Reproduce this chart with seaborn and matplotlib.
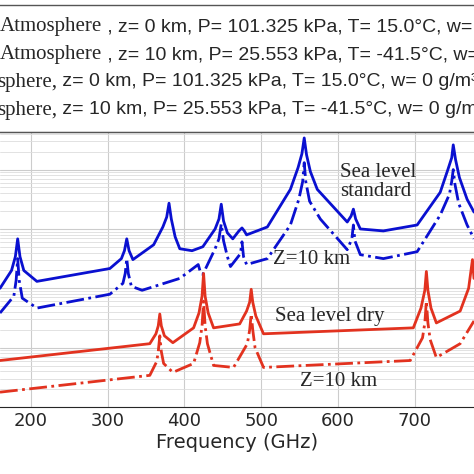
import matplotlib
matplotlib.use("Agg")
import matplotlib.pyplot as plt
import seaborn as sns

# frequency (GHz) and height in pixel-like log units
f_std = [160, 175, 180, 183, 186, 191, 208, 303, 318, 322, 325, 328, 333, 360, 372, 377, 380, 383, 388, 394, 410, 424, 440, 445, 448, 451, 456, 463, 471, 475, 478, 481, 508, 538, 548, 553, 556, 559, 564, 573, 612, 617, 620, 623, 629, 659, 703, 733, 743, 748, 750, 753, 758, 768, 777]
v_std = [120, 138, 152, 170, 152, 138, 127, 140, 150, 158, 170, 158, 149, 164, 182, 192, 206, 190, 172, 160, 158, 162, 180, 190, 205, 188, 176, 170, 178, 181, 178, 174, 182, 220, 242, 256, 272, 255, 238, 220, 187, 193, 200, 190, 180, 178, 184, 217, 240, 252, 265, 250, 232, 210, 197]
f_std10 = [160, 178, 181, 183, 185, 189, 208, 303, 320, 323, 325, 327, 331, 345, 394, 418, 421, 424, 440, 445, 448, 451, 456, 460, 473, 475, 477, 481, 508, 538, 549, 554, 556, 558, 563, 577, 612, 618, 620, 622, 629, 659, 703, 733, 745, 748, 750, 752, 757, 768, 777]
v_std10 = [95, 112, 128, 150, 128, 110, 100, 114, 125, 135, 150, 135, 122, 118, 130, 144, 136, 134, 160, 170, 185, 168, 152, 142, 155, 167, 152, 144, 150, 184, 210, 228, 247, 228, 208, 190, 159, 170, 184, 168, 154, 150, 157, 194, 215, 228, 240, 226, 206, 184, 170]
f_dry = [160, 355, 363, 366, 368, 370, 374, 385, 412, 419, 423, 425, 427, 431, 438, 472, 481, 485, 487, 489, 493, 503, 698, 708, 713, 715, 717, 721, 728, 759, 770, 775, 777]
v_dry = [47, 64, 74, 82, 94, 82, 72, 65, 80, 95, 112, 135, 112, 95, 80, 84, 97, 106, 119, 106, 92, 74, 80, 100, 118, 137, 118, 100, 85, 97, 120, 149, 130]
f_dry10 = [160, 355, 364, 366, 368, 370, 373, 385, 412, 420, 423, 425, 427, 430, 438, 464, 482, 485, 487, 489, 492, 503, 694, 710, 713, 715, 717, 720, 728, 759, 777]
v_dry10 = [15, 32, 46, 56, 72, 56, 44, 35, 44, 65, 82, 107, 82, 64, 42, 40, 64, 78, 94, 78, 60, 40, 47, 70, 85, 107, 85, 68, 50, 64, 87]

legend_serif = ["Atmosphere", "Atmosphere", "sphere,", "sphere,"]
legend_sans = [" , z= 0 km, P= 101.325 kPa, T= 15.0\u00b0C, w= 7.5 g/m\u00b3",
               " , z= 10 km, P= 25.553 kPa, T= -41.5\u00b0C, w= 0.05 g/m\u00b3",
               " z= 0 km, P= 101.325 kPa, T= 15.0\u00b0C, w= 0 g/m\u00b3",
               " z= 10 km, P= 25.553 kPa, T= -41.5\u00b0C, w= 0 g/m\u00b3"]

sns.set_style("white")
fig = plt.figure(figsize=(4.74, 4.74), dpi=100)
ax = fig.add_axes([0, 1 - 407 / 474, 1, 275 / 474])

def tr(v):
    return [10 ** (x / 60) for x in v]

blue = "#0a10d0"
red = "#e2321f"
sns.lineplot(x=f_std, y=tr(v_std), ax=ax, color=blue, lw=2)
sns.lineplot(x=f_std10, y=tr(v_std10), ax=ax, color=blue, lw=2, linestyle="-.")
sns.lineplot(x=f_dry, y=tr(v_dry), ax=ax, color=red, lw=2)
sns.lineplot(x=f_dry10, y=tr(v_dry10), ax=ax, color=red, lw=2, linestyle="-.")

ax.set_yscale("log")
ax.set_xlim(160, 777)
ax.set_ylim(1, 10 ** (278 / 60))
ax.set_xticks([200, 300, 400, 500, 600, 700])
ax.tick_params(axis="x", direction="in", labelsize=13, length=5)
ax.set_yticklabels([], minor=True)
ax.set_yticklabels([])
ax.tick_params(axis="y", which="both", length=0)
ax.grid(True, which="major", color="#cccccc", lw=0.8)
ax.grid(True, which="minor", axis="y", color="#dddddd", lw=0.6)
ax.set_xlabel("Frequency (GHz)", fontsize=14, labelpad=2)
ax.set_ylabel("")
for s in ["left", "right"]:
    ax.spines[s].set_visible(False)

serif = "Liberation Serif"
ax.text(603, 10 ** ((407 - 180) / 60), "Sea level\nstandard", family=serif, fontsize=15, va="center", linespacing=1.0)
ax.text(515, 10 ** ((407 - 258) / 60), "Z=10 km", family=serif, fontsize=15, va="center")
ax.text(518, 10 ** ((407 - 316) / 60), "Sea level dry", family=serif, fontsize=15, va="center")
ax.text(551, 10 ** ((407 - 381) / 60), "Z=10 km", family=serif, fontsize=15, va="center")

# legend box, cropped on both sides
fig.patches.append(plt.Rectangle((-0.01, 1 - 132 / 474), 1.02, 127 / 474, transform=fig.transFigure,
                                 fill=False, edgecolor="#555555", lw=1))
ys = [27, 55, 82, 110]
xs = [0, 0, -3, -3]
for i in range(4):
    t = fig.text(xs[i] / 474, 1 - ys[i] / 474, legend_serif[i], family=serif, fontsize=15, va="center")
    fig.canvas.draw()
    bb = t.get_window_extent()
    fig.text(bb.x1 / 474, 1 - ys[i] / 474, legend_sans[i], family="Liberation Sans", fontsize=14, va="center")

fig.savefig("out.png", dpi=100)
